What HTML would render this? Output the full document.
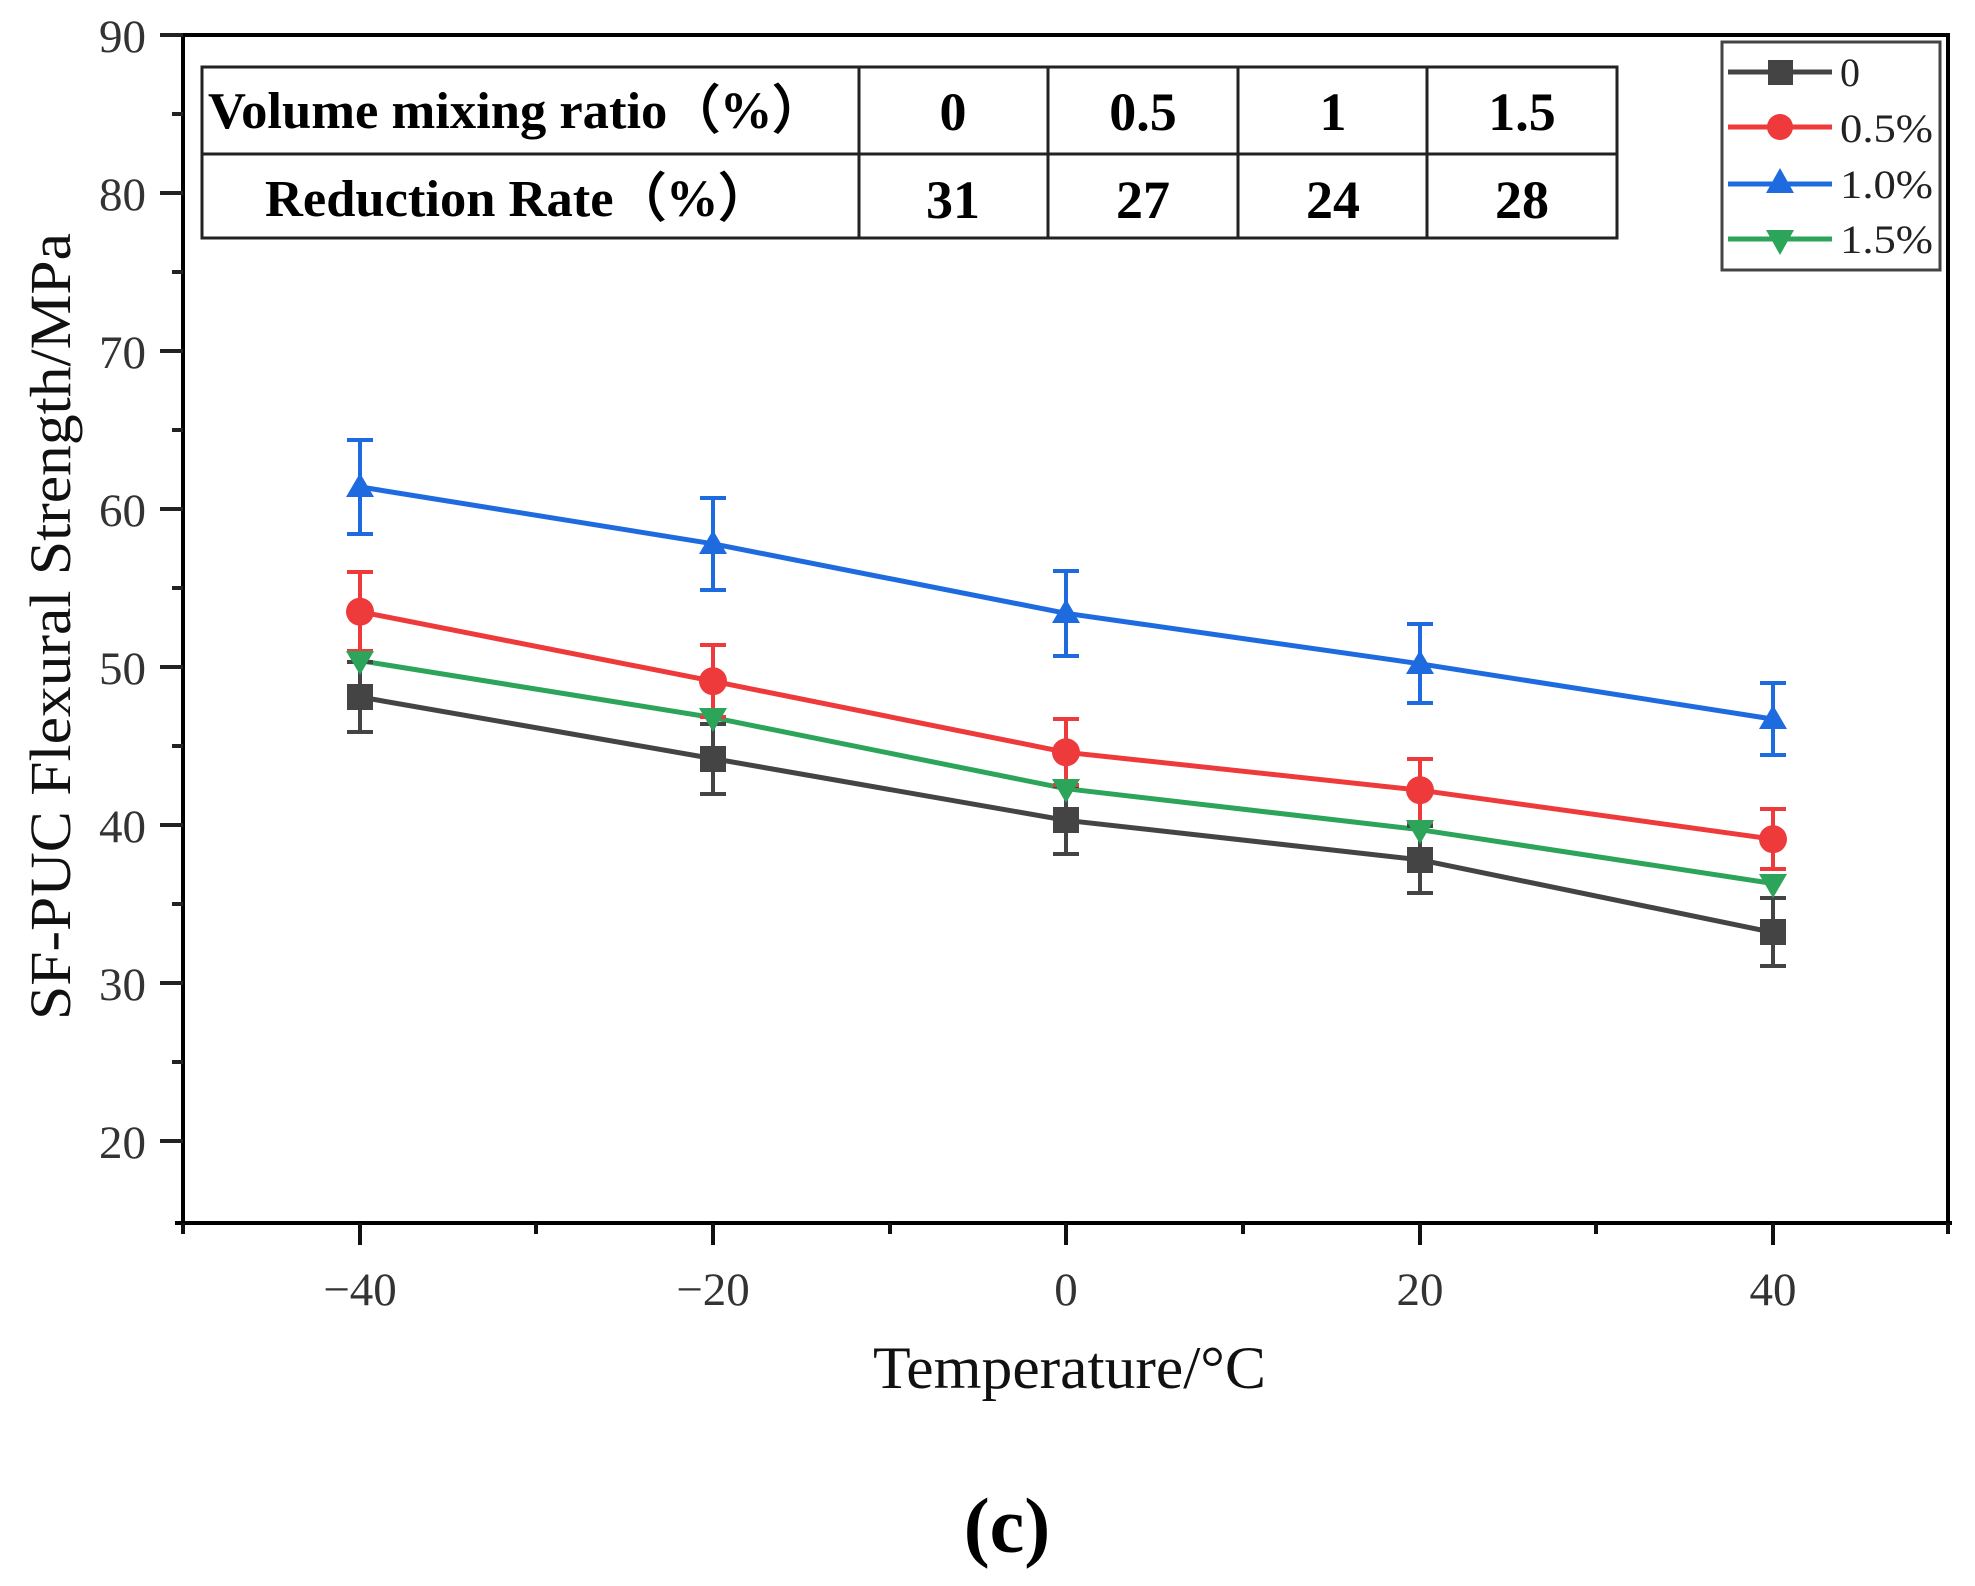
<!DOCTYPE html>
<html><head><meta charset="utf-8"><style>body{margin:0;background:#fff}svg{display:block}</style></head>
<body>
<svg width="1975" height="1586" viewBox="0 0 1975 1586" xmlns="http://www.w3.org/2000/svg" font-family="Liberation Serif, serif">
<rect width="1975" height="1586" fill="#fff"/>
<g stroke="#000" stroke-width="4" fill="none">
<line x1="183" y1="35" x2="1950" y2="35"/>
<line x1="183" y1="35" x2="183" y2="1225"/>
<line x1="1948" y1="35" x2="1948" y2="1225"/>
<line x1="175" y1="1223" x2="1952" y2="1223"/>
</g>
<g stroke="#222" stroke-width="4">
<line x1="160" y1="35" x2="183" y2="35"/><line x1="172" y1="114" x2="183" y2="114"/>
<line x1="160" y1="193" x2="183" y2="193"/><line x1="172" y1="272" x2="183" y2="272"/>
<line x1="160" y1="351" x2="183" y2="351"/><line x1="172" y1="430" x2="183" y2="430"/>
<line x1="160" y1="509" x2="183" y2="509"/><line x1="172" y1="588" x2="183" y2="588"/>
<line x1="160" y1="667" x2="183" y2="667"/><line x1="172" y1="746" x2="183" y2="746"/>
<line x1="160" y1="825" x2="183" y2="825"/><line x1="172" y1="904" x2="183" y2="904"/>
<line x1="160" y1="983" x2="183" y2="983"/><line x1="172" y1="1062" x2="183" y2="1062"/>
<line x1="160" y1="1141" x2="183" y2="1141"/>
</g>
<g font-size="47" fill="#333" text-anchor="end">
<text x="146" y="52">90</text><text x="146" y="210">80</text><text x="146" y="368">70</text>
<text x="146" y="526">60</text><text x="146" y="684">50</text><text x="146" y="842">40</text>
<text x="146" y="1000">30</text><text x="146" y="1158">20</text>
</g>
<g stroke="#111" stroke-width="4">
<line x1="183" y1="1223" x2="183" y2="1234"/>
<line x1="360" y1="1223" x2="360" y2="1245"/><line x1="536" y1="1223" x2="536" y2="1234"/>
<line x1="713" y1="1223" x2="713" y2="1245"/><line x1="890" y1="1223" x2="890" y2="1234"/>
<line x1="1066" y1="1223" x2="1066" y2="1245"/><line x1="1243" y1="1223" x2="1243" y2="1234"/>
<line x1="1420" y1="1223" x2="1420" y2="1245"/><line x1="1596" y1="1223" x2="1596" y2="1234"/>
<line x1="1773" y1="1223" x2="1773" y2="1245"/><line x1="1948" y1="1223" x2="1948" y2="1234"/>
</g>
<g font-size="47" fill="#333" text-anchor="middle">
<text x="360" y="1305">−40</text><text x="713" y="1305">−20</text><text x="1066" y="1305">0</text>
<text x="1420" y="1305">20</text><text x="1773" y="1305">40</text>
</g>
<text x="873" y="1388" font-size="60" textLength="393" lengthAdjust="spacingAndGlyphs" fill="#111">Temperature/°C</text>
<text transform="translate(70,1020) rotate(-90)" font-size="58" textLength="787" lengthAdjust="spacingAndGlyphs" fill="#111">SF-PUC Flexural Strength/MPa</text>
<text x="1007" y="1552" font-size="78" font-weight="bold" text-anchor="middle" fill="#000">(c)</text>

<g fill="none" stroke-width="5" stroke-linejoin="round">
<polyline stroke="#444" points="360,697 713,758.6 1066,820.3 1420,859.8 1773,932.4"/>
<polyline stroke="#2ca45a" points="360,660.7 713,717.6 1066,788.7 1420,829.7 1773,883.5"/>
<polyline stroke="#ee3a3a" points="360,611.7 713,681.2 1066,752.3 1420,790.2 1773,839.2"/>
<polyline stroke="#1e6be0" points="360,486.9 713,543.8 1066,613.3 1420,663.8 1773,719.1"/>
</g>
<g stroke-width="4" fill="none">
<path stroke="#444" d="M360 662v70M347 662h26M347 732h26 M713 724v70M700 724h26M700 794h26 M1066 786v68M1053 786h26M1053 854h26 M1420 826v67M1407 826h26M1407 893h26 M1773 898v68M1760 898h26M1760 966h26"/>
<path stroke="#ee3a3a" d="M360 572v79M347 572h26M347 651h26 M713 645v72M700 645h26M700 717h26 M1066 719v66M1053 719h26M1053 785h26 M1420 759v63M1407 759h26M1407 822h26 M1773 809v60M1760 809h26M1760 869h26"/>
<path stroke="#1e6be0" d="M360 440v94M347 440h26M347 534h26 M713 498v92M700 498h26M700 590h26 M1066 571v85M1053 571h26M1053 656h26 M1420 624v79M1407 624h26M1407 703h26 M1773 683v72M1760 683h26M1760 755h26"/>
</g>
<g fill="#444"><rect x="347" y="684" width="26" height="26"/><rect x="700" y="746" width="26" height="26"/><rect x="1053" y="807" width="26" height="26"/><rect x="1407" y="847" width="26" height="26"/><rect x="1760" y="919" width="26" height="26"/></g>
<g fill="#2ca45a"><path d="M346 651h28l-14 24z"/><path d="M699 708h28l-14 24z"/><path d="M1052 779h28l-14 24z"/><path d="M1406 820h28l-14 24z"/><path d="M1759 874h28l-14 24z"/></g>
<g fill="#ee3a3a"><circle cx="360" cy="611.7" r="14"/><circle cx="713" cy="681.2" r="14"/><circle cx="1066" cy="752.3" r="14"/><circle cx="1420" cy="790.2" r="14"/><circle cx="1773" cy="839.2" r="14"/></g>
<g fill="#1e6be0"><path d="M346 497h28l-14 -24z"/><path d="M699 554h28l-14 -24z"/><path d="M1052 623h28l-14 -24z"/><path d="M1406 674h28l-14 -24z"/><path d="M1759 729h28l-14 -24z"/></g>

<g stroke="#222" stroke-width="3" fill="none">
<rect x="202" y="67" width="1415" height="171"/>
<line x1="202" y1="154" x2="1617" y2="154"/>
<line x1="859" y1="67" x2="859" y2="238"/><line x1="1048" y1="67" x2="1048" y2="238"/>
<line x1="1238" y1="67" x2="1238" y2="238"/><line x1="1427" y1="67" x2="1427" y2="238"/>
</g>
<g font-size="52" font-weight="bold" fill="#000">
<text x="208" y="128" textLength="617" lengthAdjust="spacingAndGlyphs">Volume mixing ratio（%）</text>
<text x="265" y="216" textLength="506" lengthAdjust="spacingAndGlyphs">Reduction Rate（%）</text>
</g>
<g font-size="54" font-weight="bold" fill="#000" text-anchor="middle">
<text x="953" y="130">0</text><text x="1143" y="130">0.5</text><text x="1333" y="130">1</text><text x="1522" y="130">1.5</text>
<text x="953" y="218">31</text><text x="1143" y="218">27</text><text x="1333" y="218">24</text><text x="1522" y="218">28</text>
</g>

<rect x="1722" y="42" width="218" height="228" fill="#fff" stroke="#444" stroke-width="3"/>
<g stroke-width="5">
<line x1="1728" y1="72" x2="1832" y2="72" stroke="#444"/>
<line x1="1728" y1="127" x2="1832" y2="127" stroke="#ee3a3a"/>
<line x1="1728" y1="184" x2="1832" y2="184" stroke="#1e6be0"/>
<line x1="1728" y1="239" x2="1832" y2="239" stroke="#2ca45a"/>
</g>
<rect x="1768" y="60" width="25" height="25" fill="#444"/>
<circle cx="1780" cy="127" r="13" fill="#ee3a3a"/>
<path d="M1766 193h28l-14 -25z" fill="#1e6be0"/>
<path d="M1766 230h28l-14 25z" fill="#2ca45a"/>
<g font-size="40" fill="#222">
<text x="1840" y="86">0</text><text x="1840" y="142" textLength="93" lengthAdjust="spacingAndGlyphs">0.5%</text><text x="1840" y="198" textLength="93" lengthAdjust="spacingAndGlyphs">1.0%</text><text x="1840" y="253" textLength="93" lengthAdjust="spacingAndGlyphs">1.5%</text>
</g>
</svg>
</body></html>
